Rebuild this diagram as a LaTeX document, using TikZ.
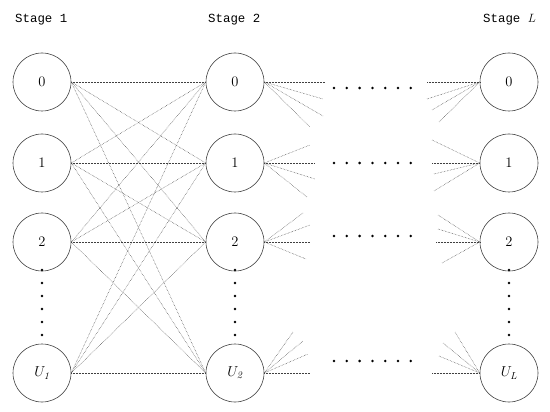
\documentclass[tikz,border=0pt]{standalone}
\usepackage{fontspec}
\newfontfamily\stagefont{Liberation Mono}
\begin{document}
\begin{tikzpicture}[x=1pt,y=-1pt,
  circ/.style={circle,draw=black!75,line width=0.6pt,minimum size=58pt,inner sep=0pt,font=\fontsize{14.5}{16}\selectfont},
  link/.style={draw=black!75,densely dotted,line width=0.5pt},
  stagelbl/.style={anchor=west,inner sep=0pt,font=\stagefont\fontsize{12.4}{14}\selectfont},
  dotmark/.style={fill=black}]
\useasboundingbox (0,0) rectangle (550,412);
% stage labels
\node[stagelbl] (s1) at (15,20) {Stage 1};
\node[stagelbl] (s2) at (208,20) {Stage 2};
\node[stagelbl] (sL) at (483,20) {Stage $L$};
% nodes
\node[circ] (a0) at (42,82) {0};
\node[circ] (a1) at (42,163) {1};
\node[circ] (a2) at (42,242) {2};
\node[circ] (aU) at (42,373) {$U_{\mathit{1}}$};
\node[circ] (b0) at (235,82) {0};
\node[circ] (b1) at (235,163) {1};
\node[circ] (b2) at (235,242) {2};
\node[circ] (bU) at (235,373) {$U_{\mathit{2}}$};
\node[circ] (c0) at (509,82) {0};
\node[circ] (c1) at (509,163) {1};
\node[circ] (c2) at (509,242) {2};
\node[circ] (cU) at (509,373) {$U_{\mathit{L}}$};
% complete bipartite stage 1 -> stage 2
\foreach \i in {0,1,2,U}
  \foreach \j in {0,1,2,U}
    \draw[link] (a\i.east) -- (b\j.west);
% fan out of stage 2
\foreach \r/\k/\x/\y in {0/1/325/82,0/2/323/99,0/3/323/116,0/4/310/127,
                         1/1/310/145,1/2/315/163,1/3/315/179,1/4/307/197,
                         2/1/303/213,2/2/310/225,2/3/310/242,2/4/306/259,
                         U/1/293/332,U/2/303/341,U/3/308/354,U/4/310/373}{
  \coordinate (out\r\k) at (\x,\y);
  \draw[link] (b\r.east) -- (out\r\k);
}
% fan into stage L
\foreach \r/\k/\x/\y in {0/1/427/82,0/2/427/99,0/3/432/110,0/4/439/122,
                         1/1/432/140,1/2/432/163,1/3/434/174,1/4/434/191,
                         2/1/438/215,2/2/438/229,2/3/436/242,2/4/442/263,
                         U/1/455/332,U/2/443/343,U/3/439/356,U/4/432/373}{
  \coordinate (in\r\k) at (\x,\y);
  \draw[link] (in\r\k) -- (c\r.west);
}
% horizontal dots
\foreach \y in {88,163,236,361}
  \foreach \k in {0,...,6}
    \fill[dotmark] (334+12.8*\k,\y) circle (1.4pt);
% vertical dots
\foreach \x in {42,235,509}
  \foreach \y in {270,283,296,309,322,335}
    \fill[dotmark] (\x,\y) circle (1.4pt);
\end{tikzpicture}
\end{document}
